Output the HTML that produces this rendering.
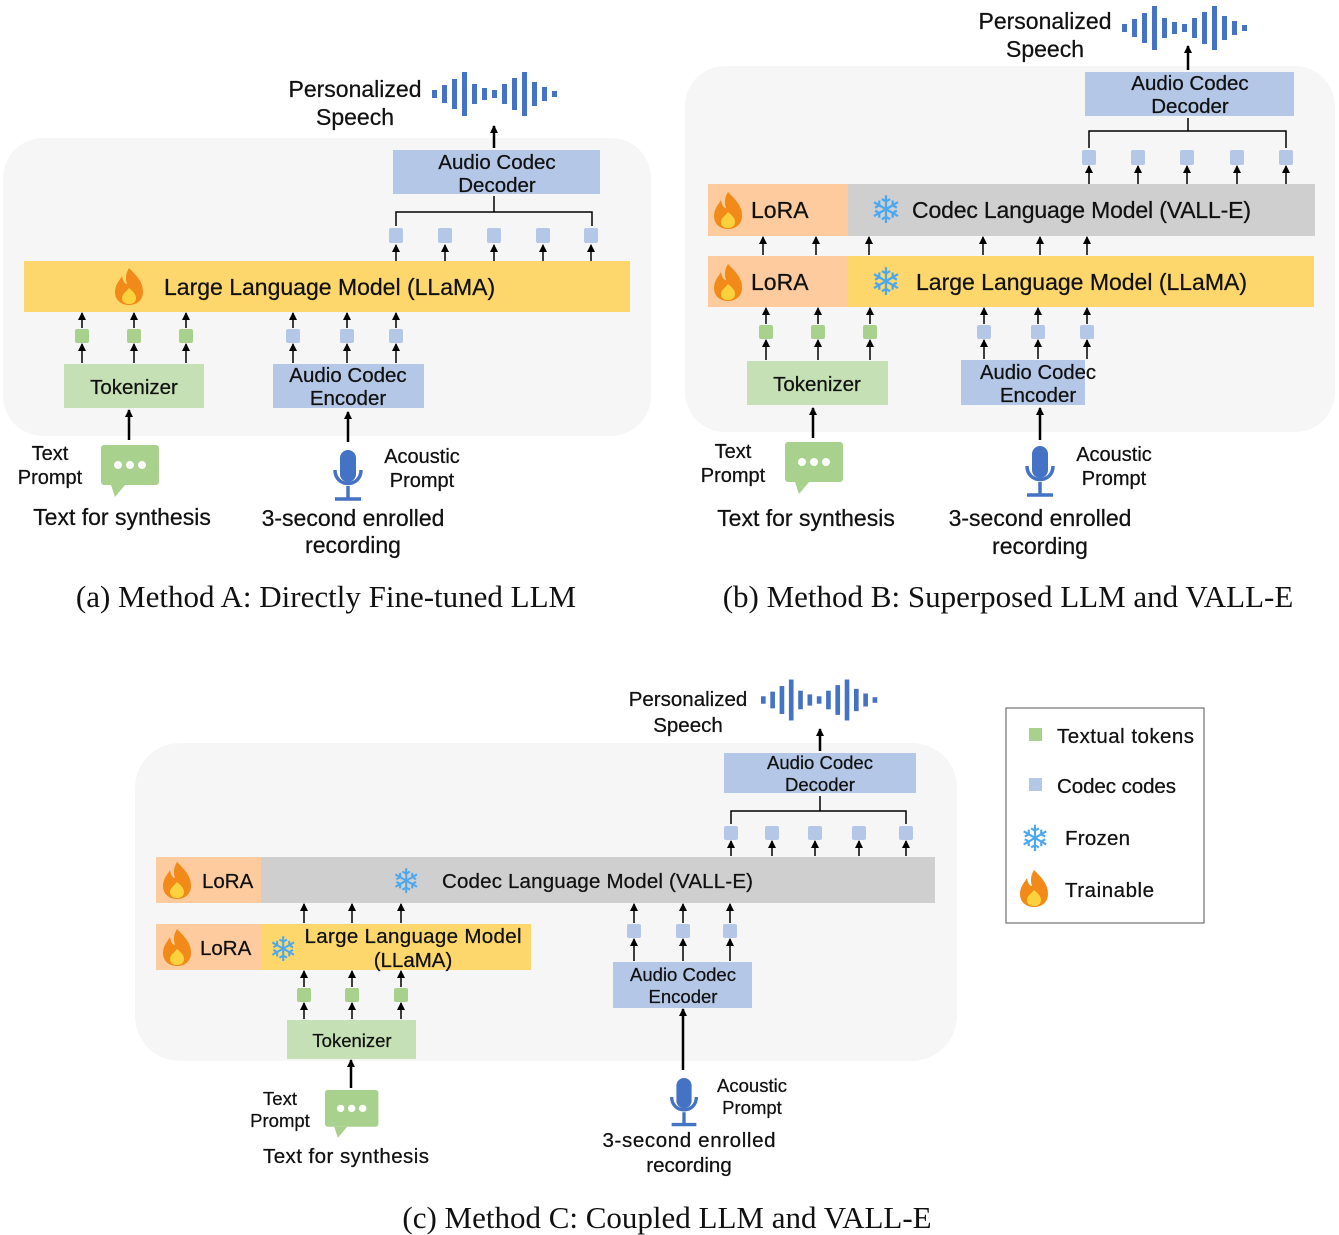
<!DOCTYPE html>
<html><head><meta charset="utf-8"><style>
html,body{margin:0;padding:0;background:#fff}
svg{display:block}
text{font-family:"Liberation Sans",sans-serif;fill:#111;stroke:#111;stroke-width:0.25}
.cap{font-family:"Liberation Serif",serif;font-size:31px;stroke-width:0}
.l{font-size:20.5px}
.m{font-size:23px}
.s{font-size:20px}
.xs{font-size:18.5px}
</style></head><body>
<svg width="1339" height="1235" viewBox="0 0 1339 1235" xmlns="http://www.w3.org/2000/svg">
<defs>
<marker id="ah" markerWidth="8" markerHeight="8" refX="7" refY="4" orient="auto" markerUnits="userSpaceOnUse" viewBox="0 0 8 8">
<path d="M0,0 L8,4 L0,8 Z" fill="#000"/></marker>
<g id="flame"><path d="M0,-18 C8,-10 14,-4 14,6 C14,14 8,19 0,19 C-8,19 -14,14 -14,6 C-14,-2 -9,-6 -7,-10 C-6,-4 -4,-2 -2,-2 C-4,-8 -3,-13 0,-18 Z" fill="#f28a1a"/><path d="M0,2 C5,6 7,9 7,12 C7,16 4,18 0,18 C-4,18 -7,16 -7,12 C-7,8 -3,6 0,2 Z" fill="#fcd23c"/></g>
<g id="chat"><rect x="0" y="0" width="58" height="40" rx="3" fill="#a9d18e"/><path d="M10,40 L14,52 L24,40 Z" fill="#a9d18e"/><circle cx="17" cy="20" r="4" fill="#fff"/><circle cx="29" cy="20" r="4" fill="#fff"/><circle cx="41" cy="20" r="4" fill="#fff"/></g>
<g id="mic"><rect x="-8" y="0" width="16" height="32" rx="8" fill="#4472c4"/><path d="M-13,20 C-13,38 13,38 13,20" fill="none" stroke="#4472c4" stroke-width="3.5"/><line x1="0" y1="36" x2="0" y2="48" stroke="#4472c4" stroke-width="3.5"/><line x1="-13" y1="49" x2="13" y2="49" stroke="#4472c4" stroke-width="3.5"/></g>
<g id="wave" fill="#4472c4"><rect x="0" y="-4" width="5" height="8"/><rect x="10" y="-9" width="5" height="18"/><rect x="20" y="-15" width="5" height="30"/><rect x="30" y="-22" width="5" height="44"/><rect x="40" y="-10" width="5" height="20"/><rect x="50" y="-6" width="5" height="12"/><rect x="60" y="-4" width="5" height="8"/><rect x="70" y="-10" width="5" height="20"/><rect x="80" y="-16" width="5" height="32"/><rect x="90" y="-22" width="5" height="44"/><rect x="100" y="-12" width="5" height="24"/><rect x="110" y="-7" width="5" height="14"/><rect x="120" y="-3" width="5" height="6"/></g>
</defs>

<!-- ============ PANEL A ============ -->
<rect x="3" y="138" width="648" height="298" rx="40" fill="#f6f6f6"/>
<rect x="24" y="261" width="606" height="51" fill="#fdd76b"/>
<use href="#flame" x="129" y="286"/>
<text x="164" y="295" class="m">Large Language Model (LLaMA)</text>
<rect x="393" y="150" width="207" height="44" fill="#b4c7e7"/>
<text x="497" y="169" class="l" text-anchor="middle">Audio Codec</text>
<text x="497" y="192" class="l" text-anchor="middle">Decoder</text>
<g fill="#b4c7e7"><rect x="389" y="228" width="14" height="15" rx="2"/><rect x="438" y="228" width="14" height="15" rx="2"/><rect x="487" y="228" width="14" height="15" rx="2"/><rect x="536" y="228" width="14" height="15" rx="2"/><rect x="584" y="228" width="14" height="15" rx="2"/></g>
<g stroke="#000" stroke-width="1.5" fill="none">
<path d="M396,226 V212 H592 V226 M494,212 V196"/>
<line x1="396" y1="261" x2="396" y2="245" marker-end="url(#ah)"/><line x1="445" y1="261" x2="445" y2="245" marker-end="url(#ah)"/><line x1="494" y1="261" x2="494" y2="245" marker-end="url(#ah)"/><line x1="543" y1="261" x2="543" y2="245" marker-end="url(#ah)"/><line x1="591" y1="261" x2="591" y2="245" marker-end="url(#ah)"/>
<line x1="494" y1="148" x2="494" y2="126" stroke-width="2.5" marker-end="url(#ah)"/>
<line x1="82" y1="328" x2="82" y2="313" marker-end="url(#ah)"/><line x1="134" y1="328" x2="134" y2="313" marker-end="url(#ah)"/><line x1="186" y1="328" x2="186" y2="313" marker-end="url(#ah)"/>
<line x1="82" y1="363" x2="82" y2="344" marker-end="url(#ah)"/><line x1="134" y1="363" x2="134" y2="344" marker-end="url(#ah)"/><line x1="186" y1="363" x2="186" y2="344" marker-end="url(#ah)"/>
<line x1="293" y1="328" x2="293" y2="313" marker-end="url(#ah)"/><line x1="347" y1="328" x2="347" y2="313" marker-end="url(#ah)"/><line x1="396" y1="328" x2="396" y2="313" marker-end="url(#ah)"/>
<line x1="293" y1="363" x2="293" y2="344" marker-end="url(#ah)"/><line x1="347" y1="363" x2="347" y2="344" marker-end="url(#ah)"/><line x1="396" y1="363" x2="396" y2="344" marker-end="url(#ah)"/>
<line x1="129" y1="440" x2="129" y2="410" stroke-width="2.5" marker-end="url(#ah)"/>
<line x1="348" y1="442" x2="348" y2="412" stroke-width="2.5" marker-end="url(#ah)"/>
</g>
<g fill="#a9d18e"><rect x="75" y="329" width="14" height="14" rx="2"/><rect x="127" y="329" width="14" height="14" rx="2"/><rect x="179" y="329" width="14" height="14" rx="2"/></g>
<g fill="#b4c7e7"><rect x="286" y="329" width="14" height="14" rx="2"/><rect x="340" y="329" width="14" height="14" rx="2"/><rect x="389" y="329" width="14" height="14" rx="2"/></g>
<rect x="64" y="364" width="140" height="44" fill="#c5e0b4"/>
<text x="134" y="394" class="l" text-anchor="middle">Tokenizer</text>
<rect x="273" y="364" width="151" height="44" fill="#b4c7e7"/>
<text x="348" y="382" class="l" text-anchor="middle">Audio Codec</text>
<text x="348" y="405" class="l" text-anchor="middle">Encoder</text>
<text x="355" y="97" class="m" text-anchor="middle" font-size="22">Personalized</text>
<text x="355" y="125" class="m" text-anchor="middle" font-size="22">Speech</text>
<use href="#wave" x="432" y="94"/>
<use href="#chat" x="101" y="445"/>
<use href="#mic" x="348" y="450"/>
<text x="50" y="460" class="s" text-anchor="middle">Text</text>
<text x="50" y="484" class="s" text-anchor="middle">Prompt</text>
<text x="422" y="463" class="s" text-anchor="middle">Acoustic</text>
<text x="422" y="487" class="s" text-anchor="middle">Prompt</text>
<text x="122" y="525" class="m" text-anchor="middle">Text for synthesis</text>
<text x="353" y="526" class="m" text-anchor="middle">3-second enrolled</text>
<text x="353" y="553" class="m" text-anchor="middle">recording</text>
<text x="326" y="607" class="cap" text-anchor="middle">(a) Method A: Directly Fine-tuned LLM</text>

<!-- ============ PANEL B ============ -->
<rect x="685" y="66" width="650" height="366" rx="40" fill="#f6f6f6"/>
<rect x="1085" y="72" width="209" height="44" fill="#b4c7e7"/>
<text x="1190" y="90" class="l" text-anchor="middle">Audio Codec</text>
<text x="1190" y="113" class="l" text-anchor="middle">Decoder</text>
<g fill="#b4c7e7"><rect x="1082" y="150" width="14" height="15" rx="2"/><rect x="1131" y="150" width="14" height="15" rx="2"/><rect x="1180" y="150" width="14" height="15" rx="2"/><rect x="1230" y="150" width="14" height="15" rx="2"/><rect x="1279" y="150" width="14" height="15" rx="2"/></g>
<rect x="708" y="184" width="140" height="52" fill="#fdcb9d"/>
<rect x="848" y="184" width="467" height="52" fill="#d0cfcf"/>
<rect x="708" y="256" width="140" height="51" fill="#fdcb9d"/>
<rect x="848" y="256" width="466" height="51" fill="#fdd76b"/>
<use href="#flame" x="728" y="210"/>
<use href="#flame" x="728" y="282"/>
<text x="751" y="218" class="m">LoRA</text>
<text x="751" y="290" class="m">LoRA</text>
<text x="886" y="223" font-size="38" text-anchor="middle" style="fill:#4aa8f0;stroke:none;font-family:'DejaVu Sans',sans-serif">❄</text>
<text x="886" y="295" font-size="38" text-anchor="middle" style="fill:#4aa8f0;stroke:none;font-family:'DejaVu Sans',sans-serif">❄</text>
<text x="912" y="218" class="m" textLength="339">Codec Language Model (VALL-E)</text>
<text x="916" y="290" class="m" textLength="331">Large Language Model (LLaMA)</text>
<g stroke="#000" stroke-width="1.5" fill="none">
<path d="M1089,148 V131 H1286 V148 M1188,131 V118"/>
<line x1="1188" y1="70" x2="1188" y2="46" stroke-width="2.5" marker-end="url(#ah)"/>
<line x1="1089" y1="184" x2="1089" y2="166" marker-end="url(#ah)"/><line x1="1138" y1="184" x2="1138" y2="166" marker-end="url(#ah)"/><line x1="1187" y1="184" x2="1187" y2="166" marker-end="url(#ah)"/><line x1="1237" y1="184" x2="1237" y2="166" marker-end="url(#ah)"/><line x1="1286" y1="184" x2="1286" y2="166" marker-end="url(#ah)"/>
<line x1="763" y1="255" x2="763" y2="237" marker-end="url(#ah)"/><line x1="816" y1="255" x2="816" y2="237" marker-end="url(#ah)"/><line x1="869" y1="255" x2="869" y2="237" marker-end="url(#ah)"/>
<line x1="983" y1="255" x2="983" y2="237" marker-end="url(#ah)"/><line x1="1040" y1="255" x2="1040" y2="237" marker-end="url(#ah)"/><line x1="1087" y1="255" x2="1087" y2="237" marker-end="url(#ah)"/>
<line x1="766" y1="324" x2="766" y2="308" marker-end="url(#ah)"/><line x1="818" y1="324" x2="818" y2="308" marker-end="url(#ah)"/><line x1="870" y1="324" x2="870" y2="308" marker-end="url(#ah)"/>
<line x1="766" y1="360" x2="766" y2="340" marker-end="url(#ah)"/><line x1="818" y1="360" x2="818" y2="340" marker-end="url(#ah)"/><line x1="870" y1="360" x2="870" y2="340" marker-end="url(#ah)"/>
<line x1="984" y1="324" x2="984" y2="308" marker-end="url(#ah)"/><line x1="1038" y1="324" x2="1038" y2="308" marker-end="url(#ah)"/><line x1="1087" y1="324" x2="1087" y2="308" marker-end="url(#ah)"/>
<line x1="984" y1="359" x2="984" y2="340" marker-end="url(#ah)"/><line x1="1038" y1="359" x2="1038" y2="340" marker-end="url(#ah)"/><line x1="1087" y1="359" x2="1087" y2="340" marker-end="url(#ah)"/>
<line x1="813" y1="438" x2="813" y2="408" stroke-width="2.5" marker-end="url(#ah)"/>
<line x1="1040" y1="440" x2="1040" y2="408" stroke-width="2.5" marker-end="url(#ah)"/>
</g>
<g fill="#a9d18e"><rect x="759" y="325" width="14" height="14" rx="2"/><rect x="811" y="325" width="14" height="14" rx="2"/><rect x="863" y="325" width="14" height="14" rx="2"/></g>
<g fill="#b4c7e7"><rect x="977" y="325" width="14" height="14" rx="2"/><rect x="1031" y="325" width="14" height="14" rx="2"/><rect x="1080" y="325" width="14" height="14" rx="2"/></g>
<rect x="747" y="361" width="141" height="44" fill="#c5e0b4"/>
<text x="817" y="391" class="l" text-anchor="middle">Tokenizer</text>
<rect x="961" y="360" width="124" height="45" fill="#b4c7e7"/>
<text x="1038" y="379" class="l" text-anchor="middle" textLength="116" lengthAdjust="spacingAndGlyphs">Audio Codec</text>
<text x="1038" y="402" class="l" text-anchor="middle">Encoder</text>
<text x="1045" y="29" class="m" font-size="22" text-anchor="middle">Personalized</text>
<text x="1045" y="57" class="m" font-size="22" text-anchor="middle">Speech</text>
<use href="#wave" x="1122" y="28"/>
<use href="#chat" x="785" y="442"/>
<use href="#mic" x="1040" y="446"/>
<text x="733" y="458" class="s" text-anchor="middle">Text</text>
<text x="733" y="482" class="s" text-anchor="middle">Prompt</text>
<text x="1114" y="461" class="s" text-anchor="middle">Acoustic</text>
<text x="1114" y="485" class="s" text-anchor="middle">Prompt</text>
<text x="806" y="526" class="m" text-anchor="middle">Text for synthesis</text>
<text x="1040" y="526" class="m" text-anchor="middle">3-second enrolled</text>
<text x="1040" y="554" class="m" text-anchor="middle">recording</text>
<text x="1008" y="607" class="cap" text-anchor="middle">(b) Method B: Superposed LLM and VALL-E</text>

<!-- ============ PANEL C ============ -->
<rect x="135" y="743" width="822" height="318" rx="45" fill="#f6f6f6"/>
<rect x="724" y="753" width="192" height="40" fill="#b4c7e7"/>
<text x="820" y="769" class="xs" text-anchor="middle">Audio Codec</text>
<text x="820" y="791" class="xs" text-anchor="middle">Decoder</text>
<g fill="#b4c7e7"><rect x="724" y="826" width="14" height="14" rx="2"/><rect x="765" y="826" width="14" height="14" rx="2"/><rect x="808" y="826" width="14" height="14" rx="2"/><rect x="852" y="826" width="14" height="14" rx="2"/><rect x="899" y="826" width="14" height="14" rx="2"/></g>
<rect x="156" y="857" width="105" height="46" fill="#fdcb9d"/>
<rect x="261" y="857" width="674" height="46" fill="#d0cfcf"/>
<rect x="156" y="924" width="105" height="46" fill="#fdcb9d"/>
<rect x="261" y="924" width="270" height="46" fill="#fdd76b"/>
<use href="#flame" x="177" y="880"/>
<use href="#flame" x="177" y="947"/>
<text x="202" y="888" class="l">LoRA</text>
<text x="200" y="955" class="l">LoRA</text>
<text x="406" y="893" font-size="34" text-anchor="middle" style="fill:#4aa8f0;stroke:none;font-family:'DejaVu Sans',sans-serif">❄</text>
<text x="283" y="961" font-size="34" text-anchor="middle" style="fill:#4aa8f0;stroke:none;font-family:'DejaVu Sans',sans-serif">❄</text>
<text x="442" y="888" class="l" textLength="311">Codec Language Model (VALL-E)</text>
<text x="413" y="943" class="l" text-anchor="middle" textLength="217">Large Language Model</text>
<text x="413" y="967" class="l" text-anchor="middle">(LLaMA)</text>
<g stroke="#000" stroke-width="1.5" fill="none">
<path d="M731,824 V811 H906 V824 M820,811 V796"/>
<line x1="820" y1="751" x2="820" y2="729" stroke-width="2.5" marker-end="url(#ah)"/>
<line x1="731" y1="856" x2="731" y2="841" marker-end="url(#ah)"/><line x1="772" y1="856" x2="772" y2="841" marker-end="url(#ah)"/><line x1="815" y1="856" x2="815" y2="841" marker-end="url(#ah)"/><line x1="859" y1="856" x2="859" y2="841" marker-end="url(#ah)"/><line x1="906" y1="856" x2="906" y2="841" marker-end="url(#ah)"/>
<line x1="304" y1="923" x2="304" y2="904" marker-end="url(#ah)"/><line x1="352" y1="923" x2="352" y2="904" marker-end="url(#ah)"/><line x1="401" y1="923" x2="401" y2="904" marker-end="url(#ah)"/>
<line x1="634" y1="923" x2="634" y2="904" marker-end="url(#ah)"/><line x1="683" y1="923" x2="683" y2="904" marker-end="url(#ah)"/><line x1="730" y1="923" x2="730" y2="904" marker-end="url(#ah)"/>
<line x1="634" y1="961" x2="634" y2="939" marker-end="url(#ah)"/><line x1="683" y1="961" x2="683" y2="939" marker-end="url(#ah)"/><line x1="730" y1="961" x2="730" y2="939" marker-end="url(#ah)"/>
<line x1="304" y1="987" x2="304" y2="971" marker-end="url(#ah)"/><line x1="352" y1="987" x2="352" y2="971" marker-end="url(#ah)"/><line x1="401" y1="987" x2="401" y2="971" marker-end="url(#ah)"/>
<line x1="304" y1="1019" x2="304" y2="1003" marker-end="url(#ah)"/><line x1="352" y1="1019" x2="352" y2="1003" marker-end="url(#ah)"/><line x1="401" y1="1019" x2="401" y2="1003" marker-end="url(#ah)"/>
<line x1="351" y1="1088" x2="351" y2="1060" stroke-width="2.5" marker-end="url(#ah)"/>
<line x1="683" y1="1070" x2="683" y2="1009" stroke-width="2.5" marker-end="url(#ah)"/>
</g>
<g fill="#b4c7e7"><rect x="627" y="924" width="14" height="14" rx="2"/><rect x="676" y="924" width="14" height="14" rx="2"/><rect x="723" y="924" width="14" height="14" rx="2"/></g>
<g fill="#a9d18e"><rect x="297" y="988" width="14" height="14" rx="2"/><rect x="345" y="988" width="14" height="14" rx="2"/><rect x="394" y="988" width="14" height="14" rx="2"/></g>
<rect x="613" y="962" width="139" height="46" fill="#b4c7e7"/>
<text x="683" y="981" class="xs" text-anchor="middle">Audio Codec</text>
<text x="683" y="1003" class="xs" text-anchor="middle">Encoder</text>
<rect x="287" y="1020" width="129" height="39" fill="#c5e0b4"/>
<text x="352" y="1047" class="xs" text-anchor="middle">Tokenizer</text>
<text x="688" y="706" class="l" text-anchor="middle">Personalized</text>
<text x="688" y="732" class="l" text-anchor="middle">Speech</text>
<g transform="translate(761,700) scale(0.93)"><use href="#wave"/></g>
<g transform="translate(325,1090) scale(0.92)"><use href="#chat"/></g>
<g transform="translate(684,1078) scale(0.95)"><use href="#mic"/></g>
<text x="280" y="1105" class="xs" text-anchor="middle">Text</text>
<text x="280" y="1127" class="xs" text-anchor="middle">Prompt</text>
<text x="752" y="1092" class="xs" text-anchor="middle">Acoustic</text>
<text x="752" y="1114" class="xs" text-anchor="middle">Prompt</text>
<text x="346" y="1163" class="l" text-anchor="middle" textLength="166">Text for synthesis</text>
<text x="689" y="1147" class="l" text-anchor="middle" textLength="173">3-second enrolled</text>
<text x="689" y="1172" class="l" text-anchor="middle">recording</text>
<text x="667" y="1228" class="cap" text-anchor="middle">(c) Method C: Coupled LLM and VALL-E</text>

<!-- Legend -->
<rect x="1006" y="708" width="198" height="215" fill="#fff" stroke="#555" stroke-width="1"/>
<rect x="1029" y="728" width="13" height="13" fill="#a9d18e"/>
<text x="1057" y="743" class="l" font-size="21" textLength="137">Textual tokens</text>
<rect x="1029" y="778" width="13" height="13" fill="#b4c7e7"/>
<text x="1057" y="793" class="l" font-size="21" textLength="119">Codec codes</text>
<text x="1035" y="851" font-size="36" text-anchor="middle" style="fill:#4aa8f0;stroke:none;font-family:'DejaVu Sans',sans-serif">❄</text>
<text x="1065" y="845" class="l" font-size="21" textLength="65">Frozen</text>
<use href="#flame" x="1034" y="888"/>
<text x="1065" y="897" class="l" font-size="21" textLength="89">Trainable</text>
</svg>
</body></html>
